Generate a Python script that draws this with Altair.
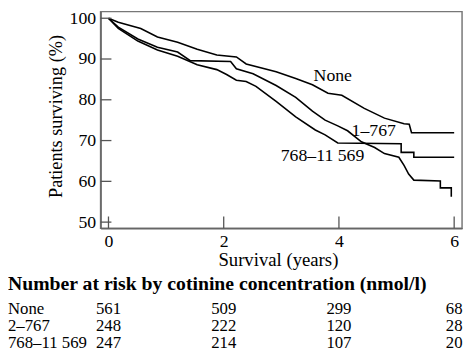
import altair as alt
import pandas as pd

# ---- survival curves (years, % surviving) ----
none_t = [0, 0.17, 0.56, 0.85, 1.20, 1.54, 1.88, 2.22, 2.39, 2.91, 3.25, 3.54, 3.81, 4.05,
          4.44, 4.79, 5.13, 5.22, 5.26, 6.0]
none_s = [100, 99.0, 97.5, 95.4, 94.1, 92.4, 91.0, 90.5, 88.8, 86.9, 85.2, 83.7, 81.6, 81.1,
          77.9, 75.5, 74.1, 74.0, 71.9, 71.9]

low_t = [0, 0.17, 0.51, 0.85, 1.20, 1.54, 1.88, 2.05, 2.22, 2.39, 2.56, 2.91, 3.25, 3.59,
         3.76, 3.98, 5.08, 5.08, 5.30, 5.30, 6.0]
low_s = [100, 97.5, 94.4, 92.2, 90.7, 88.6, 87.4, 86.2, 84.8, 84.5, 83.3, 79.6, 75.8, 72.6,
         71.4, 69.4, 69.2, 67.1, 67.1, 65.9, 65.9]

high_t = [0, 0.17, 0.51, 0.85, 1.20, 1.42, 2.12, 2.22, 2.51, 2.91, 3.25, 3.54, 3.76, 3.98,
          4.15, 4.39, 4.62, 4.79, 5.04, 5.13, 5.21, 5.30, 5.76, 5.76, 5.95, 5.95]
high_s = [100, 97.8, 94.9, 92.9, 91.7, 89.6, 89.4, 87.6, 86.4, 83.5, 80.6, 77.2, 75.0, 73.6,
          72.4, 69.7, 68.3, 66.8, 65.9, 63.9, 61.8, 60.3, 60.1, 58.4, 58.4, 56.2]

# ---- curve labels inside the plot ----
curve_labels = ["None", "1–767", "768–11 569"]
label_t = [3.56, 4.22, 2.99]
label_s = [84.5, 71.2, 65.1]

# ---- axes ----
x_ticks = [0, 2, 4, 6]
y_ticks = [50, 60, 70, 80, 90, 100]

# ---- number at risk table ----
risk_title = "Number at risk by cotinine concentration (nmol/l)"
risk_groups = ["None", "2–767", "768–11 569"]
risk_times = [0, 2, 4, 6]
risk_none = [561, 509, 299, 68]
risk_low = [248, 222, 120, 28]
risk_high = [247, 214, 107, 20]

FONT = "'Liberation Serif', 'Times New Roman', Times, 'DejaVu Serif', serif"

frames = []
for name, ts, ss in [("None", none_t, none_s), ("1–767", low_t, low_s), ("768–11 569", high_t, high_s)]:
    frames.append(pd.DataFrame({"t": ts, "s": ss, "group": name, "i": range(len(ts))}))
curves = pd.concat(frames, ignore_index=True)

x_scale = alt.Scale(domain=[-0.137, 6.137], nice=False, zero=False)
y_scale = alt.Scale(domain=[48.48, 101.62], nice=False, zero=False)

x_axis = alt.Axis(values=x_ticks, title="Survival (years)", ticks=False, tickSize=0,
                  grid=False, labelPadding=4, titleX=180, titleY=38,
                  titleBaseline="alphabetic", titleFontSize=19)
y_axis = alt.Axis(values=y_ticks, title="Patients surviving (%)", ticks=False, tickSize=0,
                  grid=False, labelPadding=5, titleX=-46, titleY=106, titleAngle=270,
                  titleAlign="center", titleBaseline="middle", titleFontSize=18.5)

X = alt.X("t:Q", scale=x_scale, axis=x_axis, title="Survival (years)")
Y = alt.Y("s:Q", scale=y_scale, axis=y_axis, title="Patients surviving (%)")

lines = alt.Chart(curves).mark_line(color="black", strokeWidth=1.6).encode(
    x=X, y=Y, detail="group:N", order="i:Q",
)

xt = alt.Chart(pd.DataFrame({"t": x_ticks})).mark_rule(color="#555", strokeWidth=1.3).encode(
    x=X, y=alt.value(220), y2=alt.value(208))
yt = alt.Chart(pd.DataFrame({"s": y_ticks})).mark_rule(color="#555", strokeWidth=1.3).encode(
    y=Y, x=alt.value(0), x2=alt.value(11))

labels = alt.Chart(pd.DataFrame({"t": label_t, "s": label_s, "txt": curve_labels})).mark_text(
    align="left", baseline="alphabetic", fontSize=18, font=FONT, color="black").encode(
    x=X, y=Y, text="txt:N")

# table layers
row_y = [307.5, 324.5, 342]
table_layers = []
title_layer = alt.Chart(pd.DataFrame({"txt": [risk_title]})).mark_text(
    align="left", baseline="alphabetic", fontSize=20, fontWeight="bold", font=FONT, color="black").encode(
    x=alt.value(-94), y=alt.value(283), text="txt:N")
table_layers.append(title_layer)
for g, vals, yy in zip(risk_groups, [risk_none, risk_low, risk_high], row_y):
    table_layers.append(alt.Chart(pd.DataFrame({"txt": [g]})).mark_text(
        align="left", baseline="alphabetic", fontSize=17, font=FONT, color="black").encode(
        x=alt.value(-94), y=alt.value(yy), text="txt:N"))
    table_layers.append(alt.Chart(pd.DataFrame({"t": risk_times, "n": vals})).mark_text(
        align="center", baseline="alphabetic", fontSize=17, font=FONT, color="black").encode(
        x=X, y=alt.value(yy), text="n:Q"))

chart = alt.layer(lines, xt, yt, labels, *table_layers).properties(
    width=367, height=220,
    autosize=alt.AutoSizeParams(type="none"),
    padding={"left": 94, "top": 1, "right": 4, "bottom": 130},
).configure(font=FONT).configure_view(
    stroke="#777", strokeWidth=1.5
).configure_axis(
    domainColor="#666", domainWidth=1.5, labelFont=FONT, labelFontSize=18, labelColor="black",
    titleFont=FONT, titleColor="black", titleFontWeight="normal",
)

chart.save("out.html", embed_options={"renderer": "svg", "actions": False})
